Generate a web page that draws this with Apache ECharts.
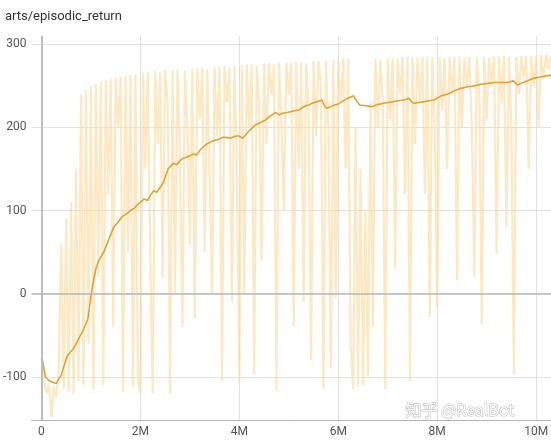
<!DOCTYPE html>
<html><head><meta charset="utf-8">
<script src="https://cdn.jsdelivr.net/npm/echarts@6/dist/echarts.min.js"></script>
<style>html,body{margin:0;padding:0;background:#fff}#c{width:551px;height:443px}</style>
</head><body><div id="c"></div>
<script>
// Steps in millions
const rawSteps = [];
for (let i = 0; i <= 206; i++) rawSteps.push(+(i * 0.05).toFixed(2));
const rawValues = [
 -78,-105,-120,-108,-148,-112,-125,-90,60,-115,
 90,-118,110,-120,150,-105,240,-110,245,-60,
 250,-115,252,20,255,-110,256,120,258,-40,
 260,200,261,-118,262,50,263,-112,264,-105,
 -120,266,150,267,40,-120,268,180,266,20,
 269,230,-120,269,0,270,170,-40,268,200,
 60,271,-30,271,210,272,50,270,140,0,
 273,190,273,-105,274,230,272,-10,275,160,
 -105,275,0,276,200,276,-97,274,230,40,
 277,180,277,240,276,-117,278,210,100,278,
 240,278,-40,279,150,279,-10,277,220,-80,
 280,190,280,250,-115,280,200,-90,281,-5,
 282,230,283,150,283,-60,-115,200,-112,150,
 -110,100,-100,230,-40,283,200,281,230,-115,
 284,210,284,30,283,240,285,120,285,-105,
 285,180,284,230,285,120,285,-28,285,200,
 -16,285,220,284,150,285,240,285,16,285,
 200,284,250,285,200,20,285,240,-37,285,
 210,284,250,285,48,285,230,286,80,285,
 200,-97,285,240,286,260,286,150,286,250,
 286,200,287,260,287,270,287
];
const smoothSteps = [0.02,0.08,0.16,0.30,0.40,0.52,0.66,0.86,0.94,1.02,1.10,1.16,1.26,1.36,1.46,1.55,1.62,1.72,1.80,1.88,1.96,2.08,2.14,2.20,2.27,2.33,2.40,2.46,2.56,2.67,2.74,2.80,2.87,2.93,3.00,3.07,3.14,3.21,3.28,3.34,3.40,3.47,3.54,3.60,3.67,3.73,3.82,3.90,3.98,4.07,4.14,4.20,4.27,4.33,4.43,4.53,4.63,4.73,4.80,4.87,4.96,5.04,5.12,5.21,5.28,5.34,5.40,5.47,5.57,5.67,5.72,5.77,5.85,5.92,6.00,6.07,6.19,6.31,6.37,6.43,6.55,6.67,6.76,6.84,6.92,7.01,7.12,7.22,7.32,7.43,7.48,7.53,7.64,7.74,7.84,7.94,8.08,8.21,8.35,8.48,8.62,8.75,8.88,9.02,9.15,9.28,9.41,9.54,9.58,9.62,9.70,9.78,9.86,9.94,10.03,10.12,10.21,10.30];
const smoothValues = [-80,-100,-105,-108,-98,-75,-65,-42,-30,5,30,40,50,65,80,86,92,96,100,103,108,114,112,118,124,122,128,133,150,157,155,160,163,164,166,168,167,173,177,180,182,184,185,186,188,188,187,189,190,187,192,196,200,203,206,209,214,218,215,217,218,219,220,221,224,226,227,229,231,233,226,223,225,227,228,231,235,238,232,227,226,225,227,228,229,230,231,232,233,235,231,229,230,231,232,233,238,240,244,247,249,250,252,253,254,254,254,256,255,251,253,255,257,259,260,261,262,263];
const xTicks = [0,2,4,6,8,10];
const yTicks = [-100,0,100,200,300];

const raw = rawSteps.map((x,i)=>[x, rawValues[i]]);
const smooth = smoothSteps.map((x,i)=>[x, smoothValues[i]]);

const chart = echarts.init(document.getElementById('c'), null, {renderer:'canvas'});
chart.setOption({
  animation:false,
  backgroundColor:'#fff',
  textStyle:{fontFamily:'Roboto'},
  title:{text:'arts/episodic_return', left:0, top:5, textStyle:{fontSize:13, fontWeight:'normal', color:'#333', fontFamily:'Roboto'}},
  grid:{left:27, right:0, top:36, bottom:23, containLabel:false},
  xAxis:{type:'value', min:-0.2, max:10.3,
    axisLine:{show:true, onZero:false, lineStyle:{color:'#b5b5b5', width:1}},
    axisTick:{show:false, customValues:xTicks},
    axisLabel:{customValues:xTicks, fontSize:12, margin:6,
      color:function(v){return v===0?'#d8d8d8':'#555';},
      formatter:function(v){return v===0?'0':v+'M';}},
    splitLine:{show:true, lineStyle:{color:'#e2e2e2', width:1}}
  },
  yAxis:{type:'value', min:-152, max:310,
    axisLine:{show:true, lineStyle:{color:'#b5b5b5', width:1}},
    axisTick:{show:false, customValues:yTicks},
    axisLabel:{customValues:yTicks, fontSize:12, margin:5,
      color:function(v){return v===300?'#d0d0d0':'#555';}},
    splitLine:{show:true, lineStyle:{color:'#e2e2e2', width:1}}
  },
  series:[
    {type:'line', data:raw, showSymbol:false, symbol:'none', z:2,
     lineStyle:{color:'rgba(252,220,165,0.65)', width:2.2},
     markLine:{silent:true, symbol:'none', label:{show:false}, animation:false,
       lineStyle:{color:'#b8b8b8', type:'solid'},
       data:[{xAxis:0, lineStyle:{width:2, color:'#bdbdbd'}},{yAxis:0, lineStyle:{width:1.5, color:'#b8b8b8'}}]}
    },
    {type:'line', data:smooth, showSymbol:false, symbol:'none', z:3,
     lineStyle:{color:'#dfa333', width:1.6}}
  ],
  graphic:[{type:'text', left:405, top:401, z:100,
    style:{text:'知乎 @RealBot', fill:'#ffffff', stroke:'#b9b9b9', lineWidth:1,
      font:'16px "Noto Sans CJK SC", sans-serif'}}]
});
</script></body></html>
